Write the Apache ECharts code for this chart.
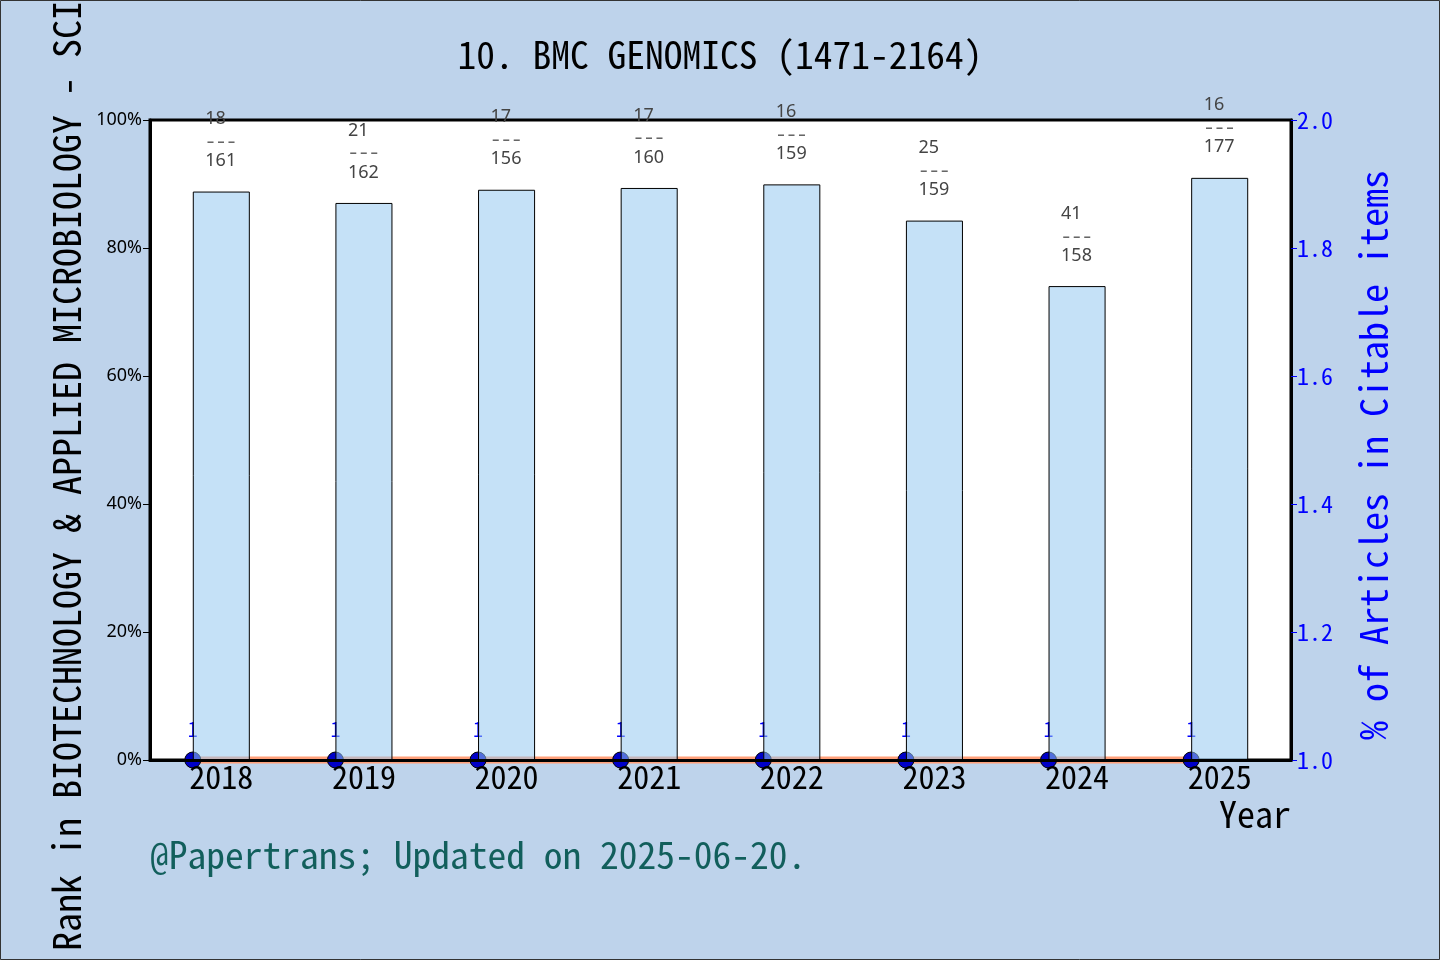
<!DOCTYPE html>
<html>
<head>
	<meta charset="utf-8">
	<title>BMC GENOMICS rank</title>
	<script src="https://cdn.jsdelivr.net/npm/echarts@6/dist/echarts.min.js"></script>
	<style>
		html, body { margin: 0; padding: 0; background: #bed3eb; }
		#box { width: 1440px; height: 960px; }
	</style>
</head>
<body>
	<div id="box"></div>
	<script type="text/javascript">
		// 年份 / 排名 / 类别期刊总数
		var years = ['2018', '2019', '2020', '2021', '2022', '2023', '2024', '2025']
		var ranks = [18, 21, 17, 17, 16, 25, 41, 16]
		var totals = [161, 162, 156, 160, 159, 159, 158, 177]
		// % of Articles in Citable items（右轴）
		var citable = [1, 1, 1, 1, 1, 1, 1, 1]
		var leftTicks = [0, 20, 40, 60, 80, 100]
		var rightTicks = [1.0, 1.2, 1.4, 1.6, 1.8, 2.0]

		var mono = '"Noto Sans Mono CJK JP", "Noto Sans Mono CJK SC", "DejaVu Sans Mono", monospace'
		var sans = '"Noto Sans", "DejaVu Sans", sans-serif'

		// 百分位 = 1 - rank / total
		var barData = ranks.map(function (r, i) {
			return +((1 - r / totals[i]) * 100).toFixed(2)
		})
		// 折线点放在柱子左边缘（类目中心 - 0.2）
		var lineData = citable.map(function (v, i) {
			return [i - 0.2, v]
		})

		var myChart = echarts.init(document.getElementById('box'))

		var option = {
			backgroundColor: '#bed3eb',
			animation: false,
			title: {
				text: '10. BMC GENOMICS (1471-2164)',
				left: 'center',
				top: 31,
				textStyle: { fontFamily: mono, fontSize: 37.5, fontWeight: 'normal', color: '#000' }
			},
			grid: {
				left: 150, right: 149, top: 120, bottom: 200,
				show: true,
				backgroundColor: '#fff',
				borderColor: '#000',
				borderWidth: 3
			},
			xAxis: [
				{
					type: 'category',
					data: years,
					boundaryGap: true,
					z: 5,
					axisLine: { lineStyle: { color: '#000', width: 3 } },
					axisTick: { inside: true, length: 5, lineStyle: { color: '#000' } },
					axisLabel: { fontFamily: mono, fontSize: 32, color: '#000', margin: 1 },
					name: 'Year',
					nameLocation: 'end',
					nameGap: 0,
					nameTextStyle: {
						fontFamily: mono, fontSize: 36, color: '#000',
						align: 'right', verticalAlign: 'top', padding: [36, 0, 0, 0]
					}
				},
				{
					type: 'value',
					min: -0.5,
					max: 7.5,
					show: false
				}
			],
			yAxis: [
				{
					type: 'value',
					min: 0,
					max: 100,
					interval: 20,
					splitLine: { show: false },
					axisLine: { show: true, onZero: false, lineStyle: { color: '#000', width: 3 } },
					axisTick: { show: true, length: 7, lineStyle: { color: '#000' } },
					axisLabel: {
						fontFamily: sans, fontSize: 18, color: '#000', margin: 8,
						formatter: '{value}%'
					}
				},
				{
					type: 'value',
					min: 1,
					max: 2,
					interval: 0.2,
					position: 'right',
					splitLine: { show: false },
					axisLine: { show: true, onZero: false, lineStyle: { color: '#000', width: 3 } },
					axisTick: { show: true, length: 6, lineStyle: { color: '#0000ff' } },
					axisLabel: {
						fontFamily: mono, fontSize: 24, color: '#0000ff', margin: 6,
						formatter: function (v) { return v.toFixed(1) }
					}
				}
			],
			graphic: [
				{
					type: 'text',
					x: 67,
					y: 476,
					rotation: Math.PI / 2,
					style: {
						text: 'Rank in BIOTECHNOLOGY & APPLIED MICROBIOLOGY - SCI',
						fontFamily: mono, fontSize: 38, fill: '#000',
						align: 'center', verticalAlign: 'middle'
					}
				},
				{
					type: 'text',
					x: 1374,
					y: 455,
					rotation: Math.PI / 2,
					style: {
						text: '% of Articles in Citable items',
						fontFamily: mono, fontSize: 38, fill: '#0000ff',
						align: 'center', verticalAlign: 'middle'
					}
				},
				{
					type: 'text',
					x: 150,
					y: 855,
					style: {
						text: '@Papertrans; Updated on 2025-06-20.',
						fontFamily: mono, fontSize: 37.5, fill: '#125f5c',
						align: 'left', verticalAlign: 'middle'
					}
				},
				{
					type: 'rect',
					shape: { x: 0.5, y: 0.5, width: 1439, height: 959 },
					style: { fill: 'none', stroke: '#333', lineWidth: 1 }
				}
			],
			series: [
				{
					type: 'line',
					data: lineData,
					xAxisIndex: 1,
					yAxisIndex: 1,
					z: 1,
					clip: false,
					symbol: 'circle',
					symbolSize: 16,
					lineStyle: { color: '#ffa07a', width: 7 },
					itemStyle: { color: '#0000c8', borderColor: '#000', borderWidth: 1 },
					label: {
						show: true,
						position: 'top',
						distance: 12,
						color: '#0000ff',
						fontFamily: mono,
						fontSize: 20
					}
				},
				{
					type: 'bar',
					data: barData,
					xAxisIndex: 0,
					yAxisIndex: 0,
					z: 2,
					barWidth: '40%',
					itemStyle: {
						color: 'rgba(150, 200, 240, 0.55)',
						borderColor: '#000',
						borderWidth: 1
					},
					label: {
						show: true,
						position: 'top',
						distance: 20,
						formatter: function (p) {
							var i = p.dataIndex
							return '{n|' + ranks[i] + '}\n{d|---}\n{n|' + totals[i] + '}'
						},
						rich: {
							n: { fontFamily: sans, fontSize: 18, color: '#444', lineHeight: 21, width: 32, align: 'left' },
							d: { fontFamily: mono, fontSize: 21, color: '#666', lineHeight: 21, width: 32, align: 'left' }
						}
					}
				}
			]
		}

		myChart.setOption(option)
	</script>
</body>
</html>
